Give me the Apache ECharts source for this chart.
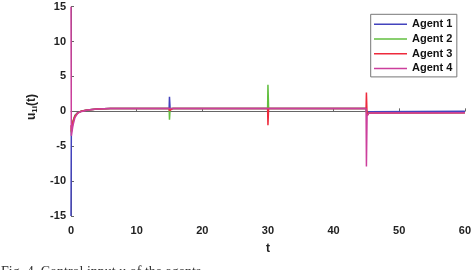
<!DOCTYPE html>
<html>
<head>
<meta charset="utf-8">
<script src="https://cdn.jsdelivr.net/npm/echarts@6/dist/echarts.min.js"></script>
<style>html,body{margin:0;padding:0;background:#fff;}#c{width:474px;height:270px;}</style>
</head>
<body>
<div id="c"></div>
<script>
const time   = [0, 0.05, 0.3, 0.6, 1, 1.5, 2.5, 4, 6, 14.95, 15, 15.1, 15.5, 29.95, 30, 30.1, 30.5, 44.95, 45, 45.1, 45.4, 60];
const agent1 = [-15, -3, -1.6, -0.6, -0.2, 0, 0.2, 0.35, 0.4, 0.4, 2.1, 0.3, 0.4, 0.4, 0.4, 0.4, 0.4, 0.4, 0.4, -0.5, -0.05, 0];
const agent2 = [-3, -2.5, -1.4, -0.6, -0.25, 0, 0.2, 0.35, 0.4, 0.4, -1.2, 0.4, 0.4, 0.4, 3.8, 0.4, 0.4, 0.4, 0.4, -0.6, -0.25, -0.2];
const agent3 = [-2, -2.8, -1.5, -0.7, -0.25, 0, 0.2, 0.35, 0.4, 0.4, 0.1, 0.2, 0.4, 0.4, -2, 0.4, 0.4, 0.4, 2.7, -0.6, -0.25, -0.2];
const agent4 = [15, -3.5, -2, -0.9, -0.3, -0.05, 0.2, 0.35, 0.4, 0.4, 0.4, 0.4, 0.4, 0.4, 0.4, 0.4, 0.4, 0.4, -7.9, -0.6, -0.25, -0.2];
const names  = ['Agent 1', 'Agent 2', 'Agent 3', 'Agent 4'];
const colors = ['#4343bd', '#62bf3f', '#ee2a3c', '#cc3f9c'];
const xTicks = [0, 10, 20, 30, 40, 50, 60];
const yTicks = [-15, -10, -5, 0, 5, 10, 15];

const values = [agent1, agent2, agent3, agent4];
const chart = echarts.init(document.getElementById('c'), null, {renderer: 'canvas'});
const font = 'Liberation Sans, Arial, sans-serif';
const axisCommon = {
  axisLine: {show: true, lineStyle: {color: '#666', width: 1}},
  axisTick: {show: true, inside: true, length: 3, lineStyle: {color: '#666'}},
  splitLine: {show: false},
  axisLabel: {color: '#222', fontFamily: font, fontWeight: 'bold', fontSize: 11}
};
chart.setOption({
  animation: false,
  backgroundColor: '#fff',
  grid: {left: 71, right: 7.5, top: 6.7, bottom: 54, containLabel: false},
  xAxis: Object.assign({}, axisCommon, {
    type: 'value', min: xTicks[0], max: xTicks[xTicks.length - 1], interval: 10,
    name: 't', nameLocation: 'middle', nameGap: 27,
    nameTextStyle: {color: '#222', fontFamily: font, fontWeight: 'bold', fontSize: 12},
    axisLabel: Object.assign({}, axisCommon.axisLabel, {margin: 9})
  }),
  yAxis: Object.assign({}, axisCommon, {
    type: 'value', min: yTicks[0], max: yTicks[yTicks.length - 1], interval: 5,
    axisLabel: Object.assign({}, axisCommon.axisLabel, {margin: 5})
  }),
  legend: {
    orient: 'vertical', left: 370.7, top: 14.3,
    data: names,
    icon: 'rect',
    itemWidth: 33, itemHeight: 1.5, itemGap: 3.7,
    padding: [4.5, 4.5, 3, 3.3],
    backgroundColor: '#fff', borderColor: '#777', borderWidth: 1,
    textStyle: {color: '#111', fontFamily: font, fontWeight: 'bold', fontSize: 11}
  },
  series: values.map((v, i) => ({
    name: names[i], type: 'line', symbol: 'none', showSymbol: false,
    data: time.map((t, k) => [t, v[k]]),
    lineStyle: {color: colors[i], width: 1.5},
    itemStyle: {color: colors[i]},
    z: 2 + i
  })),
  graphic: [
    {type: 'text', x: 32, y: 107, rotation: Math.PI / 2,
     style: {text: '{a|u}{b|1i}{a|(t)}', align: 'center', verticalAlign: 'middle',
       rich: {a: {fontFamily: font, fontWeight: 'bold', fontSize: 12, fill: '#222', lineHeight: 14},
              b: {fontFamily: font, fontWeight: 'bold', fontSize: 8, fill: '#222', verticalAlign: 'bottom', lineHeight: 8, padding: [5, 0, 0, 0]}}}},
    {type: 'text', x: 1, y: 265,
     style: {text: 'Fig. 4. Control input u of the agents', fontFamily: 'Liberation Serif, Times New Roman, serif', fontSize: 14, fill: '#333', verticalAlign: 'top'}}
  ]
});
</script>
</body>
</html>
